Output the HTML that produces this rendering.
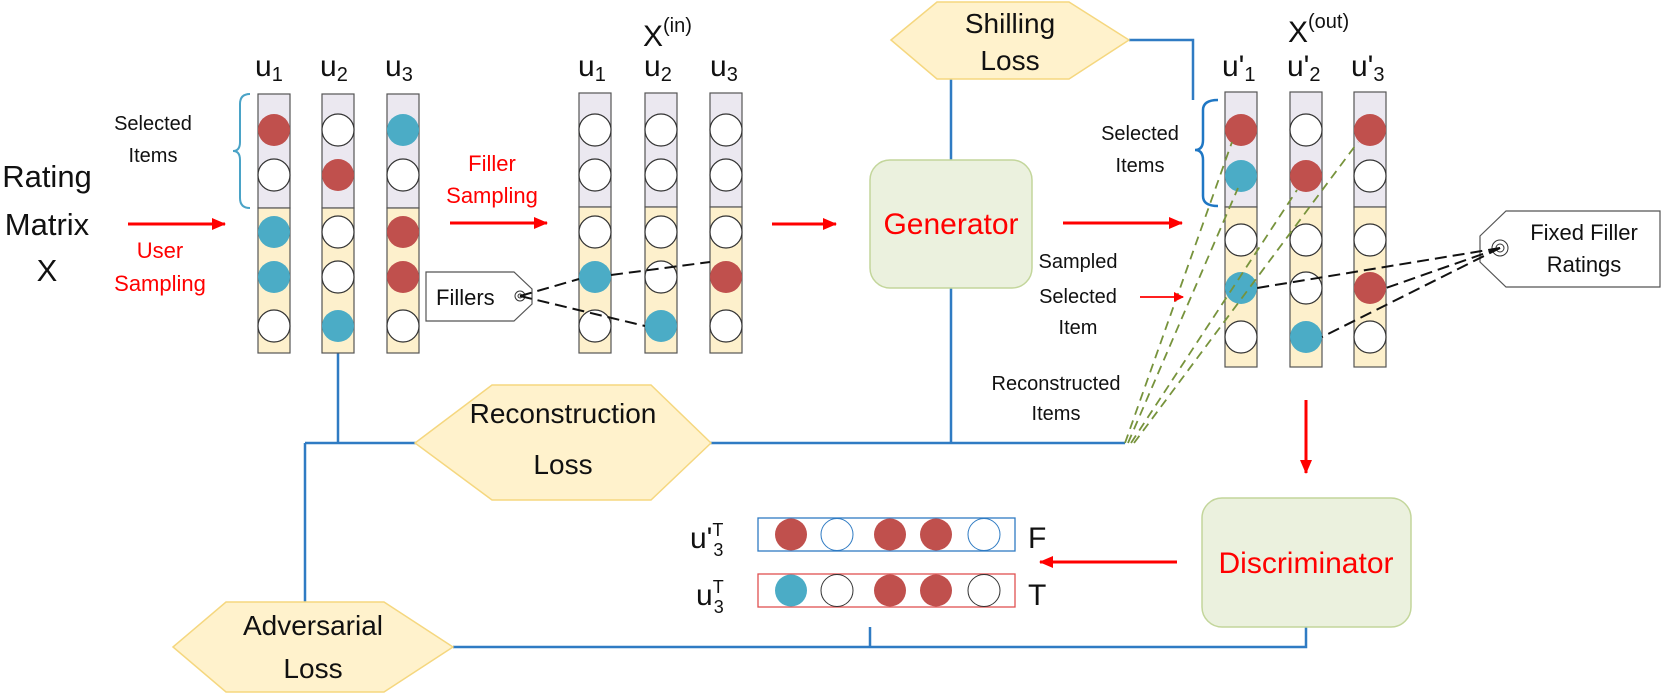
<!DOCTYPE html>
<html><head><meta charset="utf-8"><style>
html,body{margin:0;padding:0;background:#fff;}
svg{display:block;font-family:"Liberation Sans",sans-serif;}
</style></head><body>
<svg width="1661" height="693" viewBox="0 0 1661 693" xmlns="http://www.w3.org/2000/svg">
<defs>
<marker id="ar" markerWidth="10" markerHeight="10" refX="9" refY="5" orient="auto" markerUnits="userSpaceOnUse"><path d="M0,0 L10,5 L0,10 z" fill="#f00"/></marker>
<marker id="ar2" markerWidth="14" markerHeight="12" refX="13" refY="6" orient="auto" markerUnits="userSpaceOnUse"><path d="M0,0 L14,6 L0,12 z" fill="#f00"/></marker>
</defs>
<g stroke="#2f7bc3" stroke-width="2.5" fill="none">
<path d="M338,353 V443"/>
<path d="M305,443 H1125"/>
<path d="M305,443 V603"/>
<path d="M951,79 V443"/>
<path d="M1129,40 H1193 V100"/>
<path d="M453,647 H1306 V627"/>
<path d="M870,647 V627"/>
</g>
<g fill="#fff2cc" stroke="#f5d77f" stroke-width="1.5">
<polygon points="891,40 937,2 1069,2 1129,40 1069,79 937,79"/>
<polygon points="415,443 492,385 651,385 711,443 651,500 492,500"/>
<polygon points="173,647 226,602 384,602 453,647 384,692 226,692"/>
</g>
<g font-size="28" text-anchor="middle" fill="#111">
<text x="1010" y="33">Shilling</text><text x="1010" y="70">Loss</text>
<text x="563" y="423">Reconstruction</text><text x="563" y="474">Loss</text>
<text x="313" y="635">Adversarial</text><text x="313" y="678">Loss</text>
</g>
<rect x="870" y="160" width="162" height="128" rx="20" fill="#ebf1de" stroke="#c3d69b" stroke-width="1.5"/>
<text x="951" y="234" font-size="30" fill="#f00" text-anchor="middle">Generator</text>
<rect x="1202" y="498" width="209" height="129" rx="20" fill="#ebf1de" stroke="#c3d69b" stroke-width="1.5"/>
<text x="1306" y="573" font-size="30" fill="#f00" text-anchor="middle">Discriminator</text>

<g stroke="#555" stroke-width="1.2">
<rect x="258" y="94" width="32" height="114" fill="#ebe8f0"/><rect x="258" y="208" width="32" height="145" fill="#fdf0cc"/>
<rect x="322" y="94" width="32" height="114" fill="#ebe8f0"/><rect x="322" y="208" width="32" height="145" fill="#fdf0cc"/>
<rect x="387" y="94" width="32" height="114" fill="#ebe8f0"/><rect x="387" y="208" width="32" height="145" fill="#fdf0cc"/>
<rect x="579" y="93" width="32" height="114" fill="#ebe8f0"/><rect x="579" y="207" width="32" height="146" fill="#fdf0cc"/>
<rect x="645" y="93" width="32" height="114" fill="#ebe8f0"/><rect x="645" y="207" width="32" height="146" fill="#fdf0cc"/>
<rect x="710" y="93" width="32" height="114" fill="#ebe8f0"/><rect x="710" y="207" width="32" height="146" fill="#fdf0cc"/>
<rect x="1225" y="92" width="32" height="115" fill="#ebe8f0"/><rect x="1225" y="207" width="32" height="160" fill="#fdf0cc"/>
<rect x="1290" y="92" width="32" height="115" fill="#ebe8f0"/><rect x="1290" y="207" width="32" height="160" fill="#fdf0cc"/>
<rect x="1354" y="92" width="32" height="115" fill="#ebe8f0"/><rect x="1354" y="207" width="32" height="160" fill="#fdf0cc"/>
</g>
<g stroke-width="1.2">
<circle cx="274" cy="130" r="16" fill="#c0504d"/><circle cx="274" cy="175" r="16" fill="#fff" stroke="#333"/>
<circle cx="274" cy="232" r="16" fill="#4bacc6"/><circle cx="274" cy="277" r="16" fill="#4bacc6"/><circle cx="274" cy="326" r="16" fill="#fff" stroke="#333"/>
<circle cx="338" cy="130" r="16" fill="#fff" stroke="#333"/><circle cx="338" cy="175" r="16" fill="#c0504d"/>
<circle cx="338" cy="232" r="16" fill="#fff" stroke="#333"/><circle cx="338" cy="277" r="16" fill="#fff" stroke="#333"/><circle cx="338" cy="326" r="16" fill="#4bacc6"/>
<circle cx="403" cy="130" r="16" fill="#4bacc6"/><circle cx="403" cy="175" r="16" fill="#fff" stroke="#333"/>
<circle cx="403" cy="232" r="16" fill="#c0504d"/><circle cx="403" cy="277" r="16" fill="#c0504d"/><circle cx="403" cy="326" r="16" fill="#fff" stroke="#333"/>
<circle cx="595" cy="130" r="16" fill="#fff" stroke="#333"/><circle cx="595" cy="175" r="16" fill="#fff" stroke="#333"/>
<circle cx="595" cy="232" r="16" fill="#fff" stroke="#333"/><circle cx="595" cy="277" r="16" fill="#4bacc6"/><circle cx="595" cy="326" r="16" fill="#fff" stroke="#333"/>
<circle cx="661" cy="130" r="16" fill="#fff" stroke="#333"/><circle cx="661" cy="175" r="16" fill="#fff" stroke="#333"/>
<circle cx="661" cy="232" r="16" fill="#fff" stroke="#333"/><circle cx="661" cy="277" r="16" fill="#fff" stroke="#333"/><circle cx="661" cy="326" r="16" fill="#4bacc6"/>
<circle cx="726" cy="130" r="16" fill="#fff" stroke="#333"/><circle cx="726" cy="175" r="16" fill="#fff" stroke="#333"/>
<circle cx="726" cy="232" r="16" fill="#fff" stroke="#333"/><circle cx="726" cy="277" r="16" fill="#c0504d"/><circle cx="726" cy="326" r="16" fill="#fff" stroke="#333"/>
<circle cx="1241" cy="130" r="16" fill="#c0504d"/><circle cx="1241" cy="176" r="16" fill="#4bacc6"/>
<circle cx="1241" cy="240" r="16" fill="#fff" stroke="#333"/><circle cx="1241" cy="288" r="16" fill="#4bacc6"/><circle cx="1241" cy="337" r="16" fill="#fff" stroke="#333"/>
<circle cx="1306" cy="130" r="16" fill="#fff" stroke="#333"/><circle cx="1306" cy="176" r="16" fill="#c0504d"/>
<circle cx="1306" cy="240" r="16" fill="#fff" stroke="#333"/><circle cx="1306" cy="288" r="16" fill="#fff" stroke="#333"/><circle cx="1306" cy="337" r="16" fill="#4bacc6"/>
<circle cx="1370" cy="130" r="16" fill="#c0504d"/><circle cx="1370" cy="176" r="16" fill="#fff" stroke="#333"/>
<circle cx="1370" cy="240" r="16" fill="#fff" stroke="#333"/><circle cx="1370" cy="288" r="16" fill="#c0504d"/><circle cx="1370" cy="337" r="16" fill="#fff" stroke="#333"/>
</g>
<path d="M250,94 Q240,94 240,104 V142 Q240,151 233,151 Q240,151 240,160 V198 Q240,208 250,208" fill="none" stroke="#4aa3c7" stroke-width="2"/>
<path d="M1218,100 Q1203,100 1203,110 V140 Q1203,150 1195,150 Q1203,150 1203,160 V196 Q1203,206 1218,206" fill="none" stroke="#1f77c4" stroke-width="2.5"/>

<polygon points="426,272 514,272 532,289 532,304 514,321 426,321" fill="#fff" stroke="#555" stroke-width="1.2"/>
<text x="436" y="305" font-size="22" fill="#111">Fillers</text>
<circle cx="520" cy="296" r="5" fill="none" stroke="#333"/><circle cx="520" cy="296" r="2" fill="none" stroke="#333"/>
<polygon points="1480,236 1506,211 1660,211 1660,287 1506,287 1480,262" fill="#fff" stroke="#555" stroke-width="1.2"/>
<text x="1584" y="240" font-size="22" fill="#111" text-anchor="middle">Fixed Filler</text>
<text x="1584" y="272" font-size="22" fill="#111" text-anchor="middle">Ratings</text>
<circle cx="1500" cy="248" r="8" fill="none" stroke="#333"/><circle cx="1500" cy="248" r="4" fill="none" stroke="#333"/>
<g stroke="#111" stroke-width="2" stroke-dasharray="12,6" fill="none">
<line x1="520" y1="296" x2="579" y2="279"/><line x1="611" y1="275" x2="710" y2="262"/>
<line x1="520" y1="296" x2="645" y2="326"/>
<line x1="1500" y1="248" x2="1257" y2="288"/>
<line x1="1500" y1="248" x2="1386" y2="288"/>
<line x1="1500" y1="248" x2="1322" y2="337"/>
</g>
<g stroke="#77933c" stroke-width="1.8" stroke-dasharray="9,6" fill="none">
<line x1="1125" y1="443" x2="1232" y2="142"/>
<line x1="1128" y1="443" x2="1238" y2="188"/>
<line x1="1131" y1="443" x2="1297" y2="190"/>
<line x1="1134" y1="443" x2="1358" y2="142"/>
</g>

<g stroke="#f00" stroke-width="3" fill="none">
<line x1="128" y1="224" x2="225" y2="224" marker-end="url(#ar2)"/>
<line x1="450" y1="223" x2="547" y2="223" marker-end="url(#ar2)"/>
<line x1="772" y1="224" x2="836" y2="224" marker-end="url(#ar2)"/>
<line x1="1063" y1="223" x2="1182" y2="223" marker-end="url(#ar2)"/>
<line x1="1306" y1="400" x2="1306" y2="473" marker-end="url(#ar2)"/>
<line x1="1177" y1="562" x2="1040" y2="562" marker-end="url(#ar2)"/>
<line x1="1140" y1="297" x2="1183" y2="297" stroke-width="1.8" marker-end="url(#ar)"/>
</g>

<g font-size="31" fill="#111" text-anchor="middle">
<text x="47" y="187">Rating</text><text x="47" y="235">Matrix</text><text x="47" y="281">X</text>
</g>
<g font-size="20" fill="#111" text-anchor="middle">
<text x="153" y="130">Selected</text><text x="153" y="162">Items</text>
<text x="1140" y="140">Selected</text><text x="1140" y="172">Items</text>
<text x="1078" y="268">Sampled</text><text x="1078" y="303">Selected</text><text x="1078" y="334">Item</text>
<text x="1056" y="390">Reconstructed</text><text x="1056" y="420">Items</text>
</g>
<g font-size="22" fill="#f00" text-anchor="middle">
<text x="160" y="258">User</text><text x="160" y="291">Sampling</text>
<text x="492" y="171">Filler</text><text x="492" y="203">Sampling</text>
</g>
<g font-size="30" fill="#111">
<text x="255" y="76">u<tspan font-size="20" dy="5">1</tspan></text>
<text x="320" y="76">u<tspan font-size="20" dy="5">2</tspan></text>
<text x="385" y="76">u<tspan font-size="20" dy="5">3</tspan></text>
<text x="578" y="76">u<tspan font-size="20" dy="5">1</tspan></text>
<text x="644" y="76">u<tspan font-size="20" dy="5">2</tspan></text>
<text x="710" y="76">u<tspan font-size="20" dy="5">3</tspan></text>
<text x="643" y="46">X<tspan font-size="20" dy="-14">(in)</tspan></text>
<text x="1222" y="76">u'<tspan font-size="20" dy="5">1</tspan></text>
<text x="1287" y="76">u'<tspan font-size="20" dy="5">2</tspan></text>
<text x="1351" y="76">u'<tspan font-size="20" dy="5">3</tspan></text>
<text x="1288" y="42">X<tspan font-size="20" dy="-14">(out)</tspan></text>
<text x="690" y="548">u'<tspan font-size="18" dy="-12">T</tspan><tspan font-size="18" dx="-10" dy="20">3</tspan></text>
<text x="696" y="605">u<tspan font-size="18" dy="-12">T</tspan><tspan font-size="18" dx="-10" dy="20">3</tspan></text>
<text x="1028" y="548">F</text>
<text x="1028" y="605">T</text>
</g>
<rect x="758" y="518" width="257" height="33" fill="#fff" stroke="#2f7bc3" stroke-width="1.3"/>
<rect x="758" y="574" width="257" height="33" fill="#fff" stroke="#e05050" stroke-width="1.3"/>
<g>
<circle cx="791" cy="534.5" r="16" fill="#c0504d"/><circle cx="837" cy="534.5" r="16" fill="#fff" stroke="#2f7bc3"/>
<circle cx="890" cy="534.5" r="16" fill="#c0504d"/><circle cx="936" cy="534.5" r="16" fill="#c0504d"/><circle cx="984" cy="534.5" r="16" fill="#fff" stroke="#2f7bc3"/>
<circle cx="791" cy="590.5" r="16" fill="#4bacc6"/><circle cx="837" cy="590.5" r="16" fill="#fff" stroke="#333"/>
<circle cx="890" cy="590.5" r="16" fill="#c0504d"/><circle cx="936" cy="590.5" r="16" fill="#c0504d"/><circle cx="984" cy="590.5" r="16" fill="#fff" stroke="#333"/>
</g>
</svg>
</body></html>
